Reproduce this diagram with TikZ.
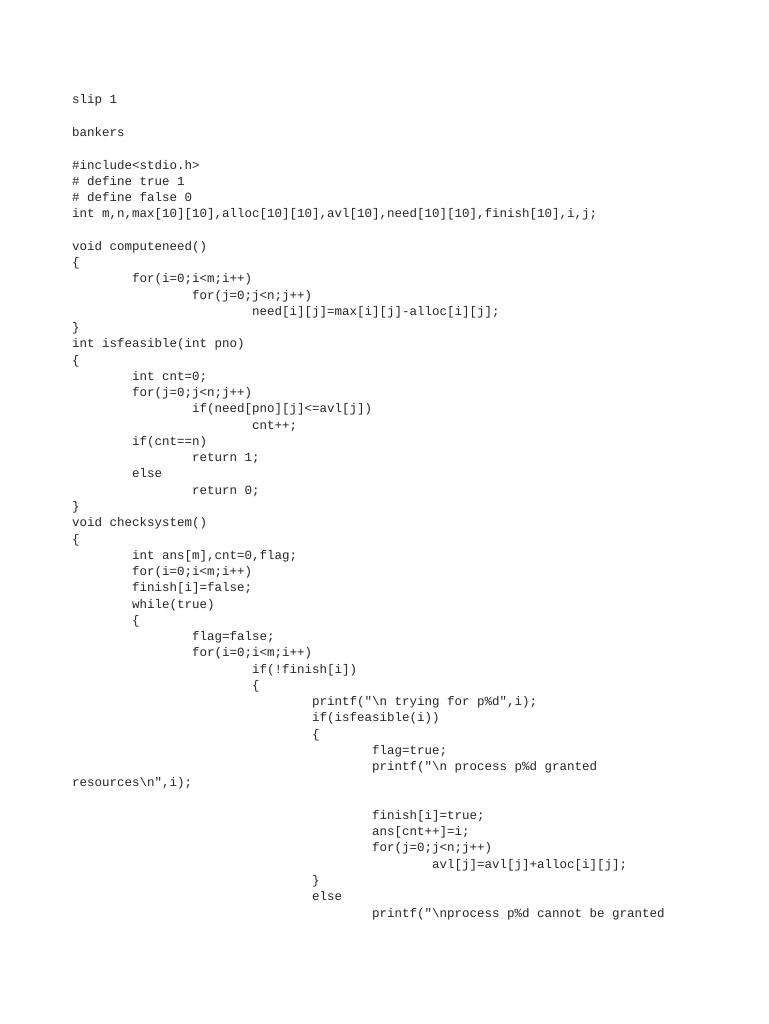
\documentclass[tikz,border=0pt]{standalone}
\usepackage{fontspec}
\setmonofont{Liberation Mono}
\newcommand{\codeline}[3]{\node[codetxt] (l#1) at ({72pt+7.5pt*#2},{-104pt-16.26pt*#1}) {#3};}
\begin{document}
\begin{tikzpicture}[codetxt/.style={anchor=base west,inner sep=0pt,font=\ttfamily\fontsize{12.5pt}{15pt}\selectfont,text=black!85}]
\useasboundingbox[fill=white] (0,0) rectangle (768pt,-1024pt);
\codeline{0}{0}{slip 1}
\codeline{2}{0}{bankers}
\codeline{4}{0}{\#include<stdio.h>}
\codeline{5}{0}{\# define true 1}
\codeline{6}{0}{\# define false 0}
\codeline{7}{0}{int m,n,max[10][10],alloc[10][10],avl[10],need[10][10],finish[10],i,j;}
\codeline{9}{0}{void computeneed()}
\codeline{10}{0}{\{}
\codeline{11}{8}{for(i=0;i<m;i++)}
\codeline{12}{16}{for(j=0;j<n;j++)}
\codeline{13}{24}{need[i][j]=max[i][j]-alloc[i][j];}
\codeline{14}{0}{\}}
\codeline{15}{0}{int isfeasible(int pno)}
\codeline{16}{0}{\{}
\codeline{17}{8}{int cnt=0;}
\codeline{18}{8}{for(j=0;j<n;j++)}
\codeline{19}{16}{if(need[pno][j]<=avl[j])}
\codeline{20}{24}{cnt++;}
\codeline{21}{8}{if(cnt==n)}
\codeline{22}{16}{return 1;}
\codeline{23}{8}{else}
\codeline{24}{16}{return 0;}
\codeline{25}{0}{\}}
\codeline{26}{0}{void checksystem()}
\codeline{27}{0}{\{}
\codeline{28}{8}{int ans[m],cnt=0,flag;}
\codeline{29}{8}{for(i=0;i<m;i++)}
\codeline{30}{8}{finish[i]=false;}
\codeline{31}{8}{while(true)}
\codeline{32}{8}{\{}
\codeline{33}{16}{flag=false;}
\codeline{34}{16}{for(i=0;i<m;i++)}
\codeline{35}{24}{if(!finish[i])}
\codeline{36}{24}{\{}
\codeline{37}{32}{printf("\textbackslash n trying for p\%d",i);}
\codeline{38}{32}{if(isfeasible(i))}
\codeline{39}{32}{\{}
\codeline{40}{40}{flag=true;}
\codeline{41}{40}{printf("\textbackslash n process p\%d granted}
\codeline{42}{0}{resources\textbackslash n",i);}
\codeline{44}{40}{finish[i]=true;}
\codeline{45}{40}{ans[cnt++]=i;}
\codeline{46}{40}{for(j=0;j<n;j++)}
\codeline{47}{48}{avl[j]=avl[j]+alloc[i][j];}
\codeline{48}{32}{\}}
\codeline{49}{32}{else}
\codeline{50}{40}{printf("\textbackslash nprocess p\%d cannot be granted}
\end{tikzpicture}
\end{document}
